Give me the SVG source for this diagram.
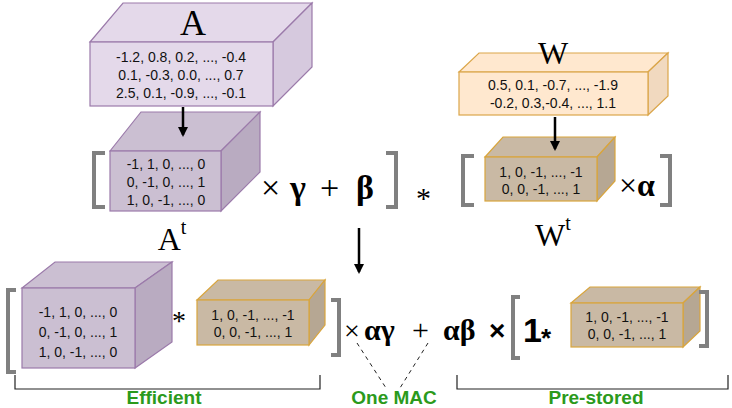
<svg xmlns="http://www.w3.org/2000/svg" width="732" height="408" viewBox="0 0 732 408">
<style>
.pl{fill:#e4d9ea;stroke:#9b7aaa;stroke-width:1.2}
.pls{fill:#d6c9de;stroke:#9b7aaa;stroke-width:1.2}
.pd{fill:#cbbfd2;stroke:#9b7aaa;stroke-width:1.2}
.pds{fill:#b9abc1;stroke:#9b7aaa;stroke-width:1.2}
.ol{fill:#ffe8cf;stroke:#dba64a;stroke-width:1.2}
.ols{fill:#f1d9bf;stroke:#dba64a;stroke-width:1.2}
.od{fill:#c9b9a4;stroke:#d9a53c;stroke-width:1.2}
.ods{fill:#b6a793;stroke:#d9a53c;stroke-width:1.2}
.m{font-family:"Liberation Sans",Arial,sans-serif;font-size:14px;fill:#111;text-anchor:middle}
.s{font-family:"Liberation Serif","DejaVu Serif",serif;fill:#000}
.b{fill:none;stroke:#808080;stroke-width:4}
.br{fill:none;stroke:#222;stroke-width:1.2}
.g{font-family:"Liberation Sans Narrow","Liberation Sans",sans-serif;font-weight:bold;font-size:19px;fill:#2b9a1c;text-anchor:middle}
.ar{stroke:#000;stroke-width:2.5;marker-end:url(#ah)}
</style>
<defs><marker id="ah" viewBox="0 0 10 10" refX="8" refY="5" markerWidth="4" markerHeight="4" orient="auto"><path d="M0,0L10,5L0,10z" fill="#000"/></marker></defs>

<g id="A">
<path class="pl" d="M90,42L123,3H312L273,42Z"/>
<path class="pls" d="M273,42L312,3V67L273,106Z"/>
<rect class="pl" x="90" y="42" width="183" height="64"/>
<text class="s" x="193" y="35" font-size="36" text-anchor="middle">A</text>
<text class="m" x="181" y="62">-1.2, 0.8, 0.2, ..., -0.4</text>
<text class="m" x="181" y="80">0.1, -0.3, 0.0, ..., 0.7</text>
<text class="m" x="181" y="98">2.5, 0.1, -0.9, ..., -0.1</text>
</g>
<g id="At">
<path class="pd" d="M110,151L141,112H260L221,151Z"/>
<path class="pds" d="M221,151L260,112V172L221,211Z"/>
<rect class="pd" x="110" y="151" width="111" height="60"/>
<text class="m" x="166" y="169">-1, 1, 0, ..., 0</text>
<text class="m" x="166" y="187">0, -1, 0, ..., 1</text>
<text class="m" x="166" y="205">1, 0, -1, ..., 0</text>
<text class="s" x="172" y="250" font-size="32" text-anchor="middle">A<tspan dy="-16" font-size="20">t</tspan></text>
</g>
<g id="W">
<path class="ol" d="M459,72L479,53H668L648,72Z"/>
<path class="ols" d="M648,72L668,53V96L648,115Z"/>
<rect class="ol" x="459" y="72" width="189" height="43"/>
<text class="s" x="553" y="64" font-size="32" text-anchor="middle">W</text>
<text class="m" x="553" y="90">0.5, 0.1, -0.7, ..., -1.9</text>
<text class="m" x="553" y="108">-0.2, 0.3,-0.4, ...,  1.1</text>
</g>
<g id="Wt">
<path class="od" d="M485,157L503,137H615L597,157Z"/>
<path class="ods" d="M597,157L615,137V181L597,201Z"/>
<rect class="od" x="485" y="157" width="112" height="44"/>
<text class="m" x="541" y="177">1, 0, -1, ..., -1</text>
<text class="m" x="541" y="194">0, 0, -1, ...,  1</text>
<text class="s" x="553" y="246" font-size="32" text-anchor="middle">W<tspan dy="-16" font-size="20">t</tspan></text>
</g>
<g id="top-formula">
<path class="b" d="M105,153H94V207H105"/>
<path class="b" d="M386,153H396V207H386"/>
<text class="s" x="261" y="199" font-size="34">×</text>
<text class="s" x="290" y="199" font-size="34" font-weight="bold">γ</text>
<text class="s" x="320" y="199" font-size="34">+</text>
<text class="s" x="356" y="199" font-size="34" font-weight="bold">β</text>
<text class="s" x="416" y="208" font-size="30">*</text>
<path class="b" d="M474,156H463V205H474"/>
<path class="b" d="M660,156H670V205H660"/>
<text class="s" x="619" y="196" font-size="32">×<tspan font-weight="bold">α</tspan></text>
</g>
<g id="bottom-A">
<path class="pd" d="M22,288L55,262H172L135,288Z"/>
<path class="pds" d="M135,288L172,262V342L135,368Z"/>
<rect class="pd" x="22" y="288" width="113" height="80"/>
<text class="m" x="78" y="317">-1, 1, 0, ..., 0</text>
<text class="m" x="78" y="337">0, -1, 0, ..., 1</text>
<text class="m" x="78" y="357">1, 0, -1, ..., 0</text>
</g>
<g id="bottom-W1">
<path class="od" d="M197,300L218,280H325L309,300Z"/>
<path class="ods" d="M309,300L325,280V325L309,345Z"/>
<rect class="od" x="197" y="300" width="112" height="45"/>
<text class="m" x="253" y="320">1, 0, -1, ..., -1</text>
<text class="m" x="253" y="337">0, 0, -1, ...,  1</text>
</g>
<g id="bottom-W2">
<path class="od" d="M571,303L590,287H700L683,303Z"/>
<path class="ods" d="M683,303L700,287V331L683,347Z"/>
<rect class="od" x="571" y="303" width="112" height="44"/>
<text class="m" x="627" y="322">1, 0, -1, ..., -1</text>
<text class="m" x="627" y="339">0, 0, -1, ...,  1</text>
</g>
<g id="bottom-formula">
<path class="b" d="M16,290H8V372H16"/>
<path class="b" d="M331,300H339V355H331"/>
<text class="s" x="172" y="330" font-size="28">*</text>
<text class="s" x="344" y="340" font-size="28">×</text>
<text class="s" x="364" y="340" font-size="30" font-weight="bold">αγ</text>
<text class="s" x="412" y="340" font-size="30">+</text>
<text class="s" x="443" y="340" font-size="30" font-weight="bold">αβ</text>
<text x="489" y="340" font-size="28" font-weight="bold" font-family="Liberation Sans,sans-serif">×</text>
<path class="b" d="M520,297H513V358H520"/>
<text x="523" y="342" font-size="34" font-weight="bold" font-family="Liberation Sans Narrow,Liberation Sans,sans-serif">1</text>
<text x="541" y="347" font-size="26" font-weight="bold" font-family="Liberation Sans,sans-serif">*</text>
<path class="b" d="M699,292H707V346H699"/>
</g>
<g id="connectors">
<line class="ar" x1="183" y1="107" x2="183" y2="135"/>
<line class="ar" x1="555" y1="117" x2="555" y2="149"/>
<line class="ar" x1="359" y1="228" x2="359" y2="272"/>
<path class="br" d="M15,375V389H320V375"/>
<path class="br" d="M457,375V389H728V375"/>
<path d="M357,343L386,388M428,343L400,388" stroke="#222" stroke-width="1" stroke-dasharray="4,4" fill="none"/>
</g>
<g id="labels">
<text class="g" x="164" y="404">Efficient</text>
<text class="g" x="394" y="404">One MAC</text>
<text class="g" x="596" y="404">Pre-stored</text>
</g>
</svg>
